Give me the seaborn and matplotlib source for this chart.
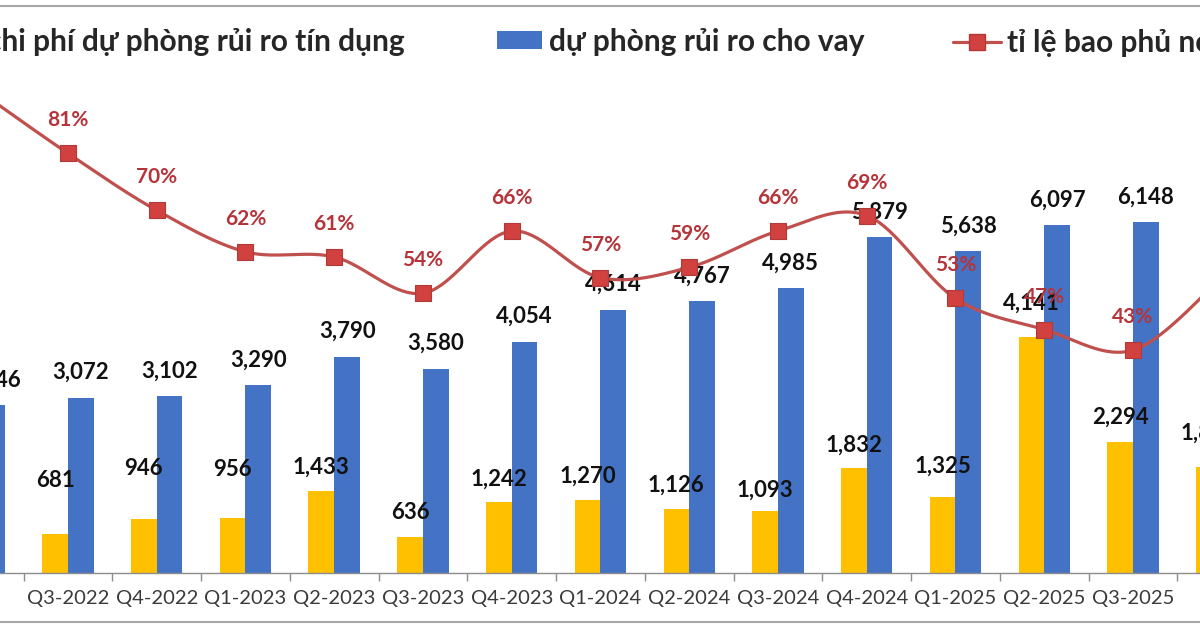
import numpy as np
import pandas as pd
import matplotlib
matplotlib.use("Agg")
import matplotlib.pyplot as plt
import seaborn as sns
from matplotlib.lines import Line2D
from matplotlib.patches import Patch

# ---------------- data ----------------
quarters = ["Q2-2022", "Q3-2022", "Q4-2022", "Q1-2023", "Q2-2023", "Q3-2023",
            "Q4-2023", "Q1-2024", "Q2-2024", "Q3-2024", "Q4-2024", "Q1-2025",
            "Q2-2025", "Q3-2025", "Q4-2025"]
provision_expense = [np.nan, 681, 946, 956, 1433, 636, 1242, 1270, 1126, 1093,
                     1832, 1325, 4141, 2294, 1860]
loan_loss_reserve = [2946, 3072, 3102, 3290, 3790, 3580, 4054, 4614, 4767, 4985,
                     5879, 5638, 6097, 6148, np.nan]
coverage_ratio = [93, 81, 70, 62, 61, 54, 66, 57, 59, 66, 69, 53, 47, 43, 57]

name_expense = "chi phí dự phòng rủi ro tín dụng"
name_reserve = "dự phòng rủi ro cho vay"
name_ratio = "tỉ lệ bao phủ nợ xấu"

# label lifts (pixels above bar top) for the yellow series
expense_lift_px = [24, 54, 50, 49, 24, 24, 23, 24, 24, 20, 23, 31, 33, 25, 34]

# ---------------- style ----------------
YELLOW = "#FFC000"
BLUE = "#4472C4"
RED = "#C0504D"
RED_TXT = "#B5343A"
FONT = ["Lato", "DejaVu Sans"]

sns.set_theme(style="white")
plt.rcParams["font.family"] = FONT

DPI = 100
fig = plt.figure(figsize=(12, 6.3), dpi=DPI)
ax = fig.add_axes([0, 57 / 630, 1, 573 / 630])

n = len(quarters)
df = pd.DataFrame({
    "quarter": quarters * 2,
    "series": [name_expense] * n + [name_reserve] * n,
    "value": provision_expense + loan_loss_reserve,
})
sns.barplot(data=df, x="quarter", y="value", hue="series", order=quarters,
            hue_order=[name_expense, name_reserve], palette=[YELLOW, BLUE],
            width=0.58, gap=0, saturation=1, legend=False, ax=ax, zorder=2,
            linewidth=0, edgecolor="none")

ax.set_xlim(0.234, 13.755)
ax.set_ylim(0, 10035)
ax.set_xlabel("")
ax.set_ylabel("")
ax.set_yticks([])
for s in ["top", "left", "right"]:
    ax.spines[s].set_visible(False)
ax.spines["bottom"].set_color("#8C8C8C")
ax.spines["bottom"].set_linewidth(1.0)
ax.set_xticks(range(n))
ax.set_xticklabels(quarters)
ax.set_xticks(np.arange(-0.5, n, 1.0), minor=True)
ax.tick_params(axis="x", which="major", length=0, pad=12, labelsize=14.5,
               labelcolor="#3A3A3A")
ax.tick_params(axis="x", which="minor", length=6, width=1, color="#8C8C8C",
               direction="out", bottom=True)

px2pt = 72 / DPI

# bar labels
for ci, cont in enumerate(ax.containers):
    for p in cont.patches:
        h = p.get_height()
        if not np.isfinite(h) or h == 0:
            continue
        xc = p.get_x() + p.get_width() / 2
        idx = int(round(xc))
        lift = expense_lift_px[idx] if ci == 0 else 25
        ax.annotate(f"{h:,.0f}", (xc, h), xytext=(0, lift * px2pt),
                    textcoords="offset points", ha="center", va="center",
                    fontsize=16, fontweight="bold", color="#111111", zorder=5,
                    annotation_clip=False)

# coverage ratio line on a secondary axis
ax2 = ax.twinx()
ax2.set_ylim(0, 110.6)
ax2.set_yticks([])
for s in ax2.spines.values():
    s.set_visible(False)


def smooth_curve(x, y, samples=40):
    x = np.asarray(x, float)
    y = np.asarray(y, float)
    cx, cy = [], []
    m = len(x)
    for k in range(m - 1):
        xa, ya = (x[k - 1], y[k - 1]) if k > 0 else (x[k], y[k])
        xd, yd = (x[k + 2], y[k + 2]) if k + 2 < m else (x[k + 1], y[k + 1])
        b0 = np.array([x[k], y[k]])
        b3 = np.array([x[k + 1], y[k + 1]])
        b1 = b0 + (b3 - np.array([xa, ya])) / 6
        b2 = b3 - (np.array([xd, yd]) - b0) / 6
        t = np.linspace(0, 1, samples)[:, None]
        pts = ((1 - t) ** 3) * b0 + 3 * ((1 - t) ** 2) * t * b1 + \
            3 * (1 - t) * t ** 2 * b2 + t ** 3 * b3
        cx.extend(pts[:, 0])
        cy.extend(pts[:, 1])
    return np.array(cx), np.array(cy)


xi = np.arange(n)
sx, sy = smooth_curve(xi, coverage_ratio)
sns.lineplot(x=sx, y=sy, sort=False, color=RED, lw=2.3, ax=ax2, zorder=3)
sns.scatterplot(x=xi, y=coverage_ratio, marker="s", s=140, color="#D0413F",
                edgecolor="#B03A37", linewidth=0.8, ax=ax2, zorder=4, legend=False)
for x, v in zip(xi, coverage_ratio):
    ax2.annotate(f"{v}%", (x, v), xytext=(0, 33 * px2pt), textcoords="offset points",
                 ha="center", va="center", fontsize=15, fontweight="bold",
                 color=RED_TXT, zorder=6, annotation_clip=False)
ax2.set_xlim(0.234, 13.755)

# legends
ly = 1 - 42 / 630
leg_fs = 21.5
fig.legend(handles=[Patch(facecolor=YELLOW, edgecolor="none")], labels=[name_expense],
           loc="center right", bbox_to_anchor=(405 / 1200, ly), frameon=False,
           borderpad=0, borderaxespad=0, handlelength=1.5, handleheight=0.55,
           handletextpad=0.25, prop={"family": FONT, "weight": "bold", "size": leg_fs})
fig.legend(handles=[Patch(facecolor=BLUE, edgecolor="none")], labels=[name_reserve],
           loc="center left", bbox_to_anchor=(497 / 1200, ly), frameon=False,
           borderpad=0, borderaxespad=0, handlelength=1.5, handleheight=0.55,
           handletextpad=0.25, prop={"family": FONT, "weight": "bold", "size": leg_fs})
fig.legend(handles=[Line2D([], [], color=RED, lw=2.3, marker="s", markersize=11,
                           markerfacecolor="#D0413F", markeredgecolor="#B03A37")],
           labels=[name_ratio], loc="center left", bbox_to_anchor=(953 / 1200, ly),
           frameon=False, borderpad=0, borderaxespad=0, handlelength=1.6,
           handletextpad=0.2, prop={"family": FONT, "weight": "bold", "size": leg_fs})

# outer frame lines of the chart
for yy in (1 - 6 / 630, 1 - 622 / 630):
    fig.add_artist(Line2D([0, 1], [yy, yy], transform=fig.transFigure,
                          color="#A6A6A6", lw=1.5))

fig.savefig("out.png", dpi=DPI)
